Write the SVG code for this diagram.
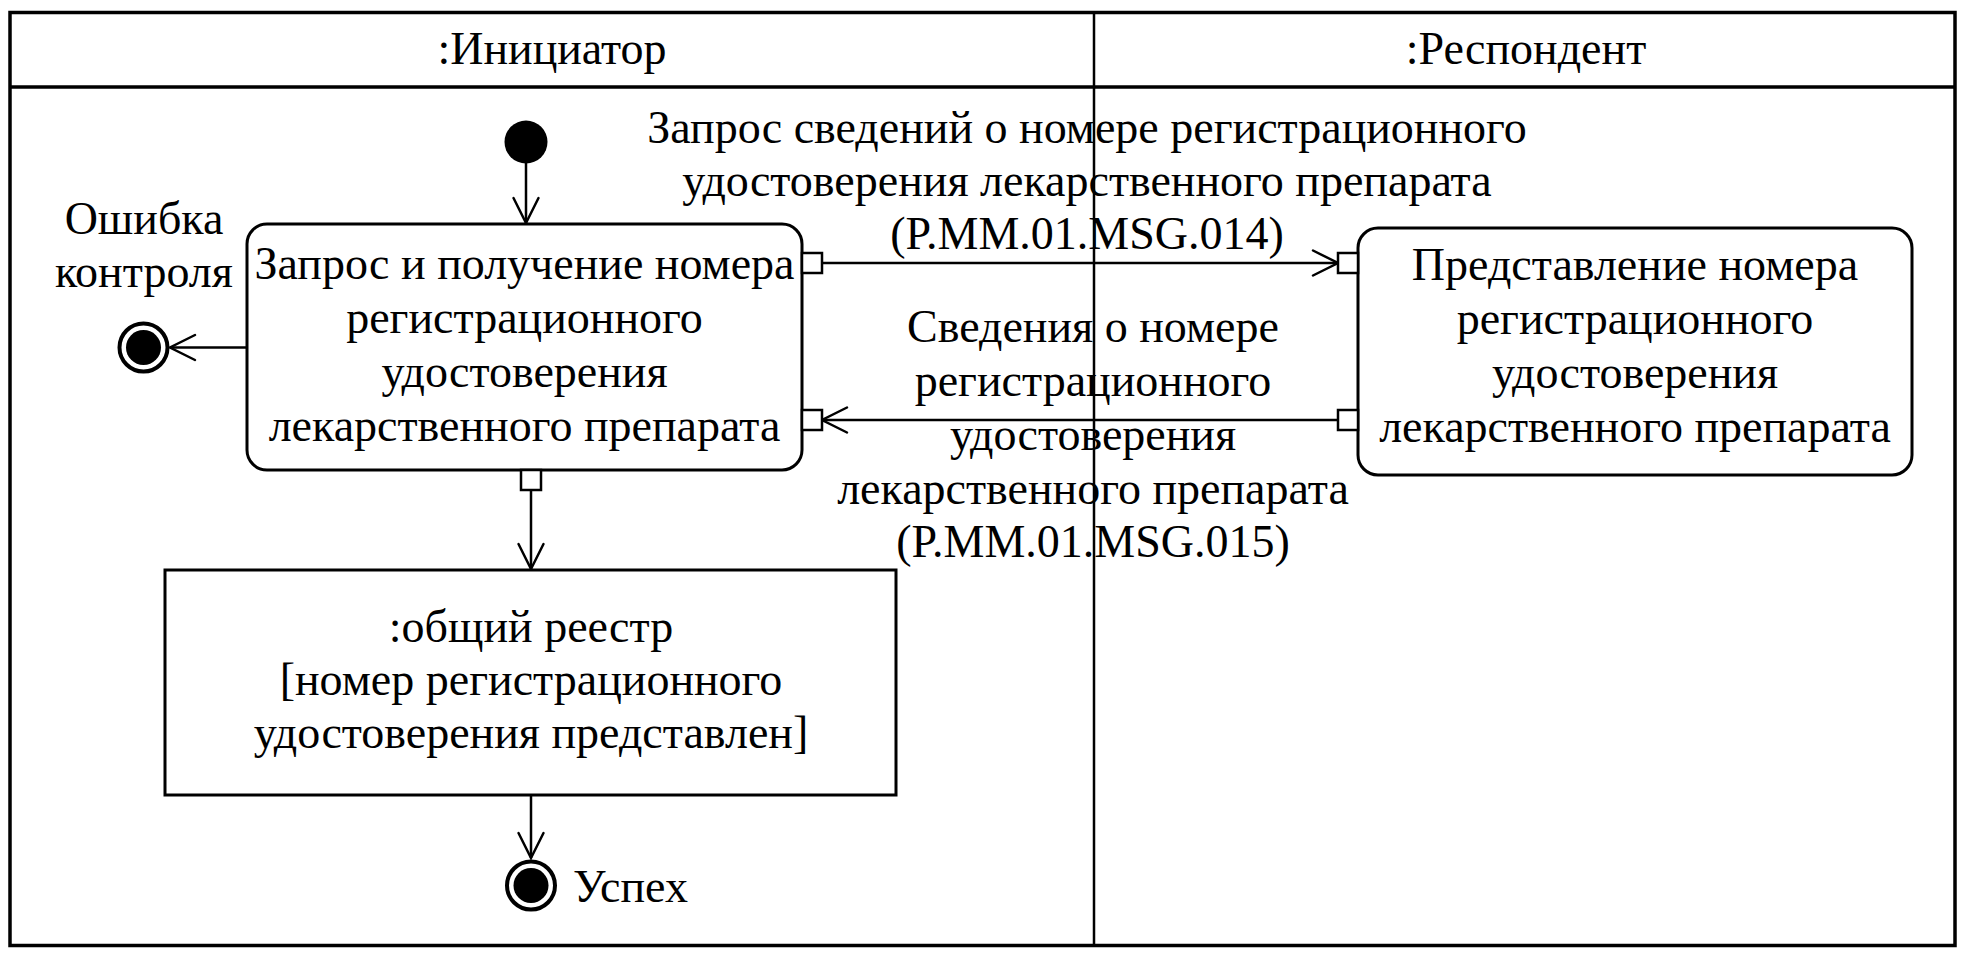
<svg xmlns="http://www.w3.org/2000/svg" width="1969" height="955" viewBox="0 0 1969 955">
<style>
text{font-family:"Liberation Serif","Times New Roman",serif;font-size:46px;fill:#000;text-anchor:middle}
.frame{fill:none;stroke:#000;stroke-width:3.5}
.box{fill:#fff;stroke:#000;stroke-width:3}
.pin{fill:#fff;stroke:#000;stroke-width:2.5}
.edge{fill:none;stroke:#000;stroke-width:2.5}
.head{fill:none;stroke:#000;stroke-width:2.5;stroke-linecap:round;stroke-linejoin:miter}
</style>
<rect x="0" y="0" width="1969" height="955" fill="#fff"/>
<g id="partitions">
<rect class="frame" x="10" y="12.5" width="1945" height="933"/>
<line class="frame" x1="10" y1="87" x2="1955" y2="87"/>
<line x1="1094" y1="12.5" x2="1094" y2="945.5" stroke="#000" stroke-width="2.5"/>
<text x="552" y="64">:Инициатор</text>
<text x="1526" y="64">:Респондент</text>
</g>
<g id="connectors">
<line class="edge" x1="526" y1="160" x2="526" y2="223"/>
<path class="head" d="M513.5,198 L526,223 L538.5,198"/>
<line class="edge" x1="247" y1="347.5" x2="170" y2="347.5"/>
<path class="head" d="M195,335 L170,347.5 L195,360"/>
<line class="edge" x1="822" y1="263" x2="1338" y2="263"/>
<path class="head" d="M1313,250.5 L1338,263 L1313,275.5"/>
<line class="edge" x1="1338" y1="420" x2="822" y2="420"/>
<path class="head" d="M847,407.5 L822,420 L847,432.5"/>
<line class="edge" x1="531" y1="490" x2="531" y2="569"/>
<path class="head" d="M518.5,544 L531,569 L543.5,544"/>
<line class="edge" x1="531" y1="795" x2="531" y2="858"/>
<path class="head" d="M518.5,833 L531,858 L543.5,833"/>
<g id="label-msg014">
<text x="1087" y="143">Запрос сведений о номере регистрационного</text>
<text x="1087" y="196">удостоверения лекарственного препарата</text>
<text x="1087" y="249">(P.MM.01.MSG.014)</text>
</g>
<g id="label-msg015">
<text x="1093" y="342">Сведения о номере</text>
<text x="1093" y="396">регистрационного</text>
<text x="1093" y="450">удостоверения</text>
<text x="1093" y="504">лекарственного препарата</text>
<text x="1093" y="557">(P.MM.01.MSG.015)</text>
</g>
</g>
<g id="initial">
<circle cx="526" cy="142" r="21.5" fill="#000"/>
</g>
<g id="final-error">
<circle cx="143.5" cy="347.5" r="24" fill="#fff" stroke="#000" stroke-width="4"/>
<circle cx="143.5" cy="347.5" r="17.5" fill="#000"/>
<text x="144" y="234">Ошибка</text>
<text x="144" y="287">контроля</text>
</g>
<g id="action-request">
<rect class="box" x="247" y="224" width="555" height="246" rx="20" ry="20"/>
<text x="524.5" y="279">Запрос и получение номера</text>
<text x="524.5" y="333">регистрационного</text>
<text x="524.5" y="387">удостоверения</text>
<text x="524.5" y="441">лекарственного препарата</text>
<rect class="pin" x="802" y="253" width="20" height="20"/>
<rect class="pin" x="802" y="410" width="20" height="20"/>
<rect class="pin" x="521" y="470" width="20" height="20"/>
</g>
<g id="action-provide">
<rect class="box" x="1358" y="228" width="554" height="247" rx="20" ry="20"/>
<text x="1635" y="280">Представление номера</text>
<text x="1635" y="334">регистрационного</text>
<text x="1635" y="388">удостоверения</text>
<text x="1635" y="442">лекарственного препарата</text>
<rect class="pin" x="1338" y="253" width="20" height="20"/>
<rect class="pin" x="1338" y="410" width="20" height="20"/>
</g>
<g id="object-registry">
<rect class="box" x="165" y="570" width="731" height="225"/>
<text x="531" y="642">:общий реестр</text>
<text x="531" y="695">[номер регистрационного</text>
<text x="531" y="748">удостоверения представлен]</text>
</g>
<g id="final-success">
<circle cx="531" cy="885.5" r="24" fill="#fff" stroke="#000" stroke-width="4"/>
<circle cx="531" cy="885.5" r="17.5" fill="#000"/>
<text x="573" y="902" style="text-anchor:start">Успех</text>
</g>
</svg>
